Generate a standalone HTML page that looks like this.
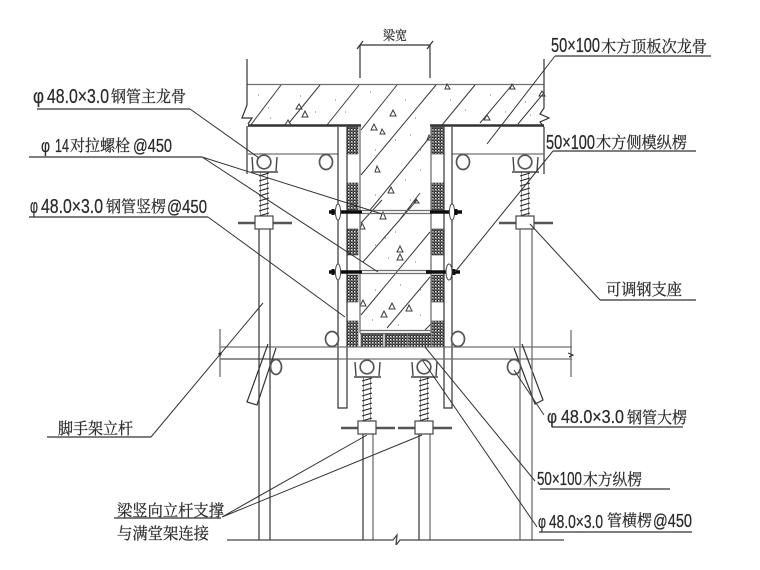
<!DOCTYPE html>
<html><head><meta charset="utf-8">
<style>
html,body{margin:0;padding:0;background:#fff;width:760px;height:570px;overflow:hidden}
svg{display:block}
.l{fill:none;stroke:#333;stroke-width:1.2}
.g{fill:none;stroke:#707070;stroke-width:1.3}
.t{fill:none;stroke:#3a3a3a;stroke-width:1}
text{fill:#2c2c2c;stroke:#2c2c2c;stroke-width:.25}
.c{font-family:"Liberation Serif","Noto Serif CJK SC",serif;font-size:16px}
.a{font-family:"Liberation Sans","Noto Sans CJK SC",sans-serif;font-size:20px}
.s{font-size:18px}
</style></head><body>
<svg width="760" height="570" viewBox="0 0 760 570" xmlns="http://www.w3.org/2000/svg">
<defs>
<pattern id="h" patternUnits="userSpaceOnUse" width="3" height="3">
<rect width="3" height="3" fill="#2a2a2a"/><rect width="1.5" height="1.5" fill="#e4e4e4"/><rect x="1.5" y="1.5" width="1" height="1" fill="#c4c4c4"/>
</pattern>
<filter id="b" x="0" y="0" width="100%" height="100%"><feGaussianBlur stdDeviation=".35"/></filter>
<g id="sup">
<path d="M-26,61H28" fill="none" stroke="#555" stroke-width="2.4"/>
<path d="M-3.5,10V54M3.5,10V54" fill="none" stroke="#777" stroke-width=".8"/>
<path d="M-5,14L5,11M-5,19L5,16M-5,24L5,21M-5,29L5,26M-5,34L5,31M-5,39L5,36M-5,44L5,41M-5,49L5,46M-5,54L5,51" fill="none" stroke="#222" stroke-width="1.1"/>
<rect x="-9" y="54" width="18" height="13" fill="#fff" stroke="#444" stroke-width="1.2"/>
<path d="M-12,-5L-11,9M13,-5L12,9M-13,10H14" fill="none" stroke="#444" stroke-width="1.4"/>
<circle cx="0" cy="0" r="6.8" fill="#fff" stroke="#555" stroke-width="1.7"/>
</g>
</defs>
<g filter="url(#b)">
<!-- dimension -->
<path class="l" d="M360,45H430M360,45V78M430,45V78M357,49L363,41M427,49L433,41"/>
<!-- slab -->
<path class="g" d="M247,84.5H544"/>
<path class="l" d="M247,59V105L242,118L252,118L248,124"/>
<path class="l" d="M544,59V108L540,114L549,118L540,122L544,127"/>
<path d="M248,125.5H361M430,125.5H544" fill="none" stroke="#333" stroke-width="2.4"/>
<path class="l" d="M247,126V174M544,127V174"/>
<path class="g" d="M248,154H338M452,154H544"/>
<!-- hatching -->
<path class="t" d="M281,85L250,126M320,85L289,123M359,85L327,125M397,85L361,130M436,85L361,175M475,85L442,125M430,137L370,210M512,85L480,123M543,94L518,124M420,193L398,222M430,232L361,315M382,200L361,223M417,200L363,262M430,277L387,328M431,324L425,330"/>
<!-- triangles -->
<path class="t" d="M305,111L302,117H308ZM374,124L371,130H377ZM382,129L380,134H385ZM393,110L390,116H396ZM377,166L375,172H380ZM391,187L388,193H394ZM383,212L380,219H386ZM400,246L397,252H403ZM400,254L397,260H403ZM363,300L360,306H366ZM392,303L389,309H395ZM384,311L381,317H387ZM409,305L406,311H412ZM362,223L360,229H365ZM299,104L296,109H302ZM288,120L285,125H291ZM447,84L445,89H450ZM512,84L510,89H515ZM487,115L484,120H490ZM429,135L427,140H432ZM416,199L414,203H419ZM542,91L539,96H545Z"/>
<!-- speckles -->
<path d="M258,95h1M268,108h1M300,96h1M335,100h1M345,112h1M370,92h1M405,100h1M415,118h1M410,135h1M375,150h1M395,140h1M420,150h1M420,170h1M405,180h1M375,195h1M410,200h1M385,238h1M395,232h1M375,245h1M415,262h1M388,258h1M375,290h1M400,285h1M420,290h1M372,320h1M398,325h1M420,315h1M450,100h1M465,110h1M490,95h1M505,112h1M525,102h1M530,115h1M270,118h1M315,112h1" fill="none" stroke="#777" stroke-width="1"/>
<!-- wales/verticals -->
<path class="l" d="M338,127V408H347V127M444,127V408H452V127"/>
<path class="g" d="M360,127V333M431,127V333M360,330.5H431M360,333.5H431"/>
<!-- hatched blocks -->
<g fill="url(#h)" stroke="#333" stroke-width=".6">
<rect x="347" y="127" width="11" height="27"/><rect x="347" y="183" width="11" height="27"/>
<rect x="347" y="229" width="11" height="26"/><rect x="347" y="275" width="11" height="27"/>
<rect x="347" y="321" width="11" height="26"/>
<rect x="432" y="127" width="12" height="27"/><rect x="432" y="183" width="12" height="27"/>
<rect x="432" y="229" width="12" height="26"/><rect x="432" y="275" width="12" height="27"/>
<rect x="432" y="321" width="12" height="26"/>
<rect x="361" y="334" width="22" height="13"/><rect x="385" y="334" width="22" height="13"/><rect x="408" y="334" width="23" height="13"/>
</g>
<!-- tie bolts -->
<path class="g" d="M362,210.5H430M362,213.5H430M362,270.5H430M362,273.5H430"/>
<g fill="none" stroke="#111" stroke-width="3.4">
<path d="M329,212H362M430,212H462M329,272H362M426,272H460"/>
</g>
<g fill="#fff" stroke="#444" stroke-width="1">
<ellipse cx="338" cy="212" rx="2.6" ry="8"/><ellipse cx="452" cy="212" rx="2.6" ry="8"/>
<ellipse cx="338" cy="272" rx="2.6" ry="8"/><ellipse cx="449" cy="272" rx="3" ry="8"/>
</g>
<path d="M333,209v6M333,269v6M456,209v6M454,269v6" stroke="#111" stroke-width="3" fill="none"/>
<!-- scaffold -->
<path class="g" d="M220,347H572M220,359H572"/>
<path d="M220,359H338" stroke="#444" stroke-width="1" fill="none"/>
<path class="g" d="M220,329V377M571,330V377"/>
<circle cx="220" cy="354" r="1.6" fill="#333"/>
<path class="l" d="M568,353L573,355L569,357"/>
<!-- diagonal short tubes -->
<path class="l" d="M268,344L247,402L257,405L276,348"/>
<path class="l" d="M522,344L543,400L535,404L514,348"/>
<!-- pipes -->
<path class="l" d="M259,229V540M270,229V540M363,433V540M419,433V540"/>
<path class="g" d="M520,229V540M532,229V540M373,433V540M430,433V540"/>
<path d="M227,540H393L397,535L396,545L400,540H564" fill="none" stroke="#444" stroke-width="1.3"/>
<!-- rings -->
<g fill="#fff" stroke="#555" stroke-width="1.7">
<ellipse cx="326" cy="162" rx="6.5" ry="7.5"/><ellipse cx="463" cy="162" rx="6.5" ry="7.5"/>
<ellipse cx="332" cy="339" rx="6.5" ry="7.5"/><ellipse cx="458" cy="339" rx="6.5" ry="7.5"/>
<ellipse cx="276" cy="367" rx="5.5" ry="7.5"/><ellipse cx="514" cy="367" rx="6.5" ry="7.5"/>
</g>
<use href="#sup" x="264" y="162"/>
<use href="#sup" x="525" y="162"/>
<use href="#sup" x="367" y="367"/>
<use href="#sup" x="424" y="367"/>
<!-- leaders -->
<path d="M555,56L487,144M553,151L455,272M600,300L530,224M190,109L259,158M202,157L382,214M202,157L378,272M208,217L345,317M151,437L263,303M222,517L367,435M222,517L422,435M514,370L544,415M425,347L535,481M423,361L537,527" fill="none" stroke="#333" stroke-width="1"/>
<path d="M555,56H711M553,151H696M600,300H696M37,109H190M29,157H202M29,217H208M47,437H151M114,518H221M552,427H683M540,489H670M539,532H692" fill="none" stroke="#555" stroke-width="1.5"/>
<!-- labels -->
<text class="c" x="383" y="40" style="font-size:13px" textLength="24" lengthAdjust="spacingAndGlyphs">梁宽</text>
<text class="a" x="551" y="52" textLength="49" lengthAdjust="spacingAndGlyphs">50×100</text>
<text class="c" x="601" y="52" textLength="106" lengthAdjust="spacingAndGlyphs">木方顶板次龙骨</text>
<text class="a" x="546" y="149" textLength="49" lengthAdjust="spacingAndGlyphs">50×100</text>
<text class="c" x="596" y="148" textLength="91" lengthAdjust="spacingAndGlyphs">木方侧模纵楞</text>
<text class="c" x="606" y="295" textLength="76" lengthAdjust="spacingAndGlyphs">可调钢支座</text>

<text class="a" x="33" y="103" textLength="11" lengthAdjust="spacingAndGlyphs">φ</text>
<text class="a" x="47" y="103" textLength="62" lengthAdjust="spacingAndGlyphs">48.0×3.0</text>
<text class="c" x="111" y="102" textLength="75" lengthAdjust="spacingAndGlyphs">钢管主龙骨</text>

<text class="a s" x="41" y="152" textLength="9" lengthAdjust="spacingAndGlyphs">φ</text>
<text class="a s" x="55" y="152" textLength="14" lengthAdjust="spacingAndGlyphs">14</text>
<text class="c" x="70" y="151" textLength="60" lengthAdjust="spacingAndGlyphs">对拉螺栓</text>
<text class="a s" x="133" y="152" textLength="39" lengthAdjust="spacingAndGlyphs">@450</text>

<text class="a" x="30" y="213" textLength="8" lengthAdjust="spacingAndGlyphs">φ</text>
<text class="a" x="41" y="213" textLength="62" lengthAdjust="spacingAndGlyphs">48.0×3.0</text>
<text class="c" x="106" y="212" textLength="60" lengthAdjust="spacingAndGlyphs">钢管竖楞</text>
<text class="a s" x="167" y="213" textLength="40" lengthAdjust="spacingAndGlyphs">@450</text>

<text class="c" x="58" y="434" textLength="75" lengthAdjust="spacingAndGlyphs">脚手架立杆</text>
<text class="c" x="117" y="516" textLength="107" lengthAdjust="spacingAndGlyphs">梁竖向立杆支撑</text>
<text class="c" x="117" y="539" textLength="92" lengthAdjust="spacingAndGlyphs">与满堂架连接</text>

<text class="a s" x="547" y="423" textLength="10" lengthAdjust="spacingAndGlyphs">φ</text>
<text class="a s" x="561" y="423" textLength="63" lengthAdjust="spacingAndGlyphs">48.0×3.0</text>
<text class="c" x="627" y="423" textLength="60" lengthAdjust="spacingAndGlyphs">钢管大楞</text>

<text class="a s" x="537" y="485" textLength="45" lengthAdjust="spacingAndGlyphs">50×100</text>
<text class="c" x="583" y="485" textLength="59" lengthAdjust="spacingAndGlyphs">木方纵楞</text>

<text class="a s" x="538" y="528" textLength="8" lengthAdjust="spacingAndGlyphs">φ</text>
<text class="a s" x="549" y="528" textLength="54" lengthAdjust="spacingAndGlyphs">48.0×3.0</text>
<text class="c" x="607" y="526" textLength="45" lengthAdjust="spacingAndGlyphs">管横楞</text>
<text class="a s" x="653" y="527" textLength="39" lengthAdjust="spacingAndGlyphs">@450</text>
</g>
</svg>
</body></html>
